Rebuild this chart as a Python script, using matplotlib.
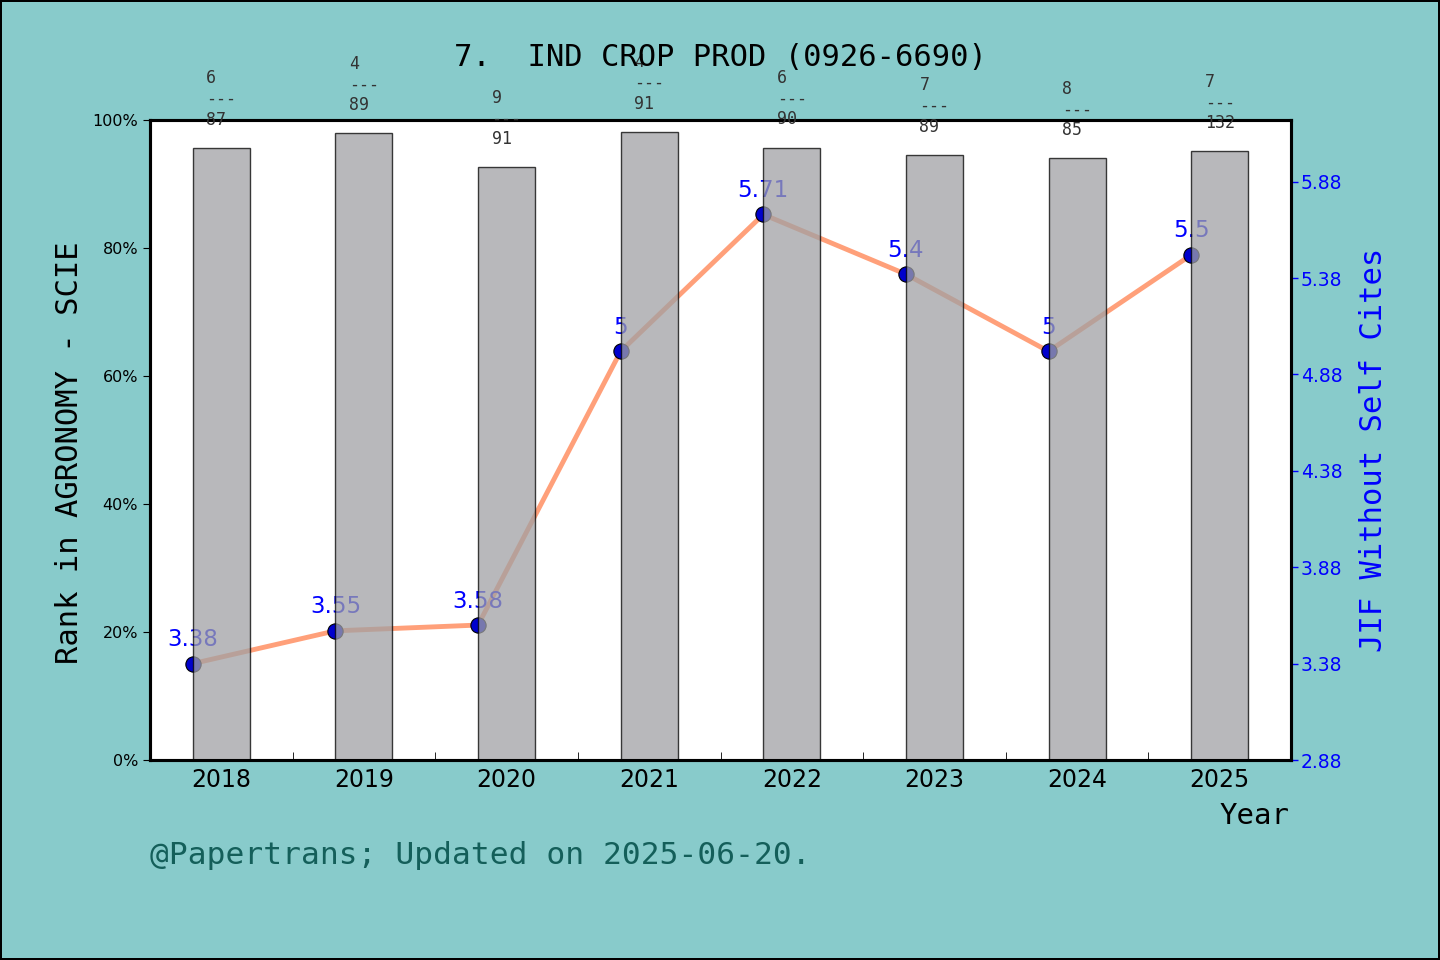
import numpy as np
import matplotlib.pyplot as plt

# data
years = ['2018', '2019', '2020', '2021', '2022', '2023', '2024', '2025']
rank_pos = [6, 4, 9, 4, 6, 7, 8, 7]
rank_total = [87, 89, 91, 91, 90, 89, 85, 132]
rank_pct = [0.956, 0.979, 0.926, 0.981, 0.957, 0.945, 0.940, 0.951]
jif = [3.38, 3.55, 3.58, 5.0, 5.71, 5.4, 5.0, 5.5]
jif_labels = ['3.38', '3.55', '3.58', '5', '5.71', '5.4', '5', '5.5']
right_ticks = [2.88, 3.38, 3.88, 4.38, 4.88, 5.38, 5.88]

bg = '#88cbcb'
mono = 'DejaVu Sans Mono'

x = np.arange(len(years))

fig = plt.figure(figsize=(14.4, 9.6), dpi=100, facecolor=bg,
                 edgecolor='black', linewidth=1.5)
ax = fig.add_axes([150/1440, 1-760/960, 1141/1440, 640/960])
ax2 = ax.twinx()

# line + points on the twin axis (underneath the bars)
ax2.patch.set_visible(True)
ax2.patch.set_facecolor('white')
ax2.plot(x, jif, color='#ffa07a', lw=3.5, zorder=2)
ax2.plot(x, jif, 'o', color='#0000cd', mec='black', mew=0.8, ms=11, zorder=3)
for xi, v, s in zip(x, jif, jif_labels):
    ax2.annotate(s, (xi, v), xytext=(0, 9), textcoords='offset points',
                 ha='center', va='bottom', color='blue', fontsize=16.5)
ax2.set_ylim(2.88, 6.2)
ax2.set_yticks(right_ticks)
ax2.set_yticklabels(['%.2f' % t for t in right_ticks])
ax2.tick_params(axis='y', colors='blue', labelsize=13.5, length=5, width=1, pad=2)

# bars on the main axis, drawn on top with transparency
ax.set_zorder(ax2.get_zorder() + 1)
ax.patch.set_visible(False)
ax.bar(x, rank_pct, width=0.4, align='edge', color='#a0a1a4', alpha=0.75,
       edgecolor='black', linewidth=1)
for xi, h, p, t in zip(x, rank_pct, rank_pos, rank_total):
    ax.text(xi + 0.2, h + 0.03, '%d\n---\n%d' % (p, t), ha='center', va='bottom',
            multialignment='left', fontsize=12, color='#333333', linespacing=1.2,
            family=mono, clip_on=False)

ax.set_xlim(-0.3, 7.7)
ax.set_ylim(0, 1)
ax.set_yticks(np.arange(0, 1.01, 0.2))
ax.set_yticklabels(['%d%%' % v for v in range(0, 101, 20)])
ax.tick_params(axis='y', labelsize=11.5, length=5)
ax.set_xticks(x + 0.2)
ax.set_xticklabels(years)
ax.tick_params(axis='x', labelsize=17, length=0, pad=6)
ax.set_xticks(x[:-1] + 0.7, minor=True)
ax.tick_params(axis='x', which='minor', direction='in', length=6)

for a in (ax, ax2):
    for sp in a.spines.values():
        sp.set_linewidth(2.2)

ax.set_ylabel('Rank in AGRONOMY - SCIE', fontsize=22, family=mono)
ax.yaxis.set_label_coords(-0.058, 0.48)
ax2.set_ylabel('JIF Without Self Cites', fontsize=22, family=mono, color='blue',
               rotation=90)
ax2.yaxis.set_label_coords(1.060, 0.484)

fig.text(0.5, 1-57/960, '7.  IND CROP PROD (0926-6690)', ha='center', va='center',
         fontsize=22, family=mono)
fig.text(1290/1440, 1-816/960, 'Year', ha='right', va='center', fontsize=21,
         family=mono)
fig.text(150/1440, 1-855/960, '@Papertrans; Updated on 2025-06-20.', ha='left',
         va='center', fontsize=22.5, family=mono, color='#145f5a')

fig.savefig('out.png', dpi=100, facecolor=bg, edgecolor='black')
